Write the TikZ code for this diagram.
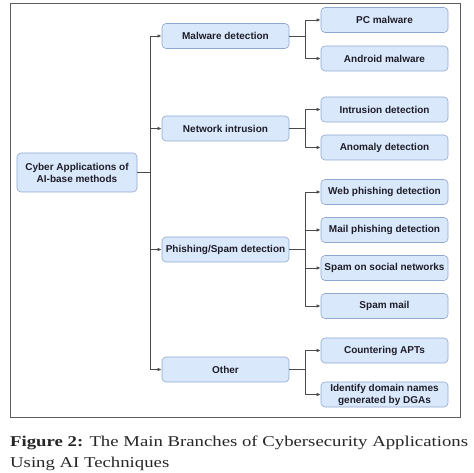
\documentclass[tikz,border=0pt]{standalone}
\usepackage{fontspec}
\setmainfont[FakeStretch=1.25]{Liberation Serif}
\newfontfamily\boxfont{Liberation Sans}
\usetikzlibrary{arrows.meta}
\definecolor{boxfill}{HTML}{DAE8FC}
\definecolor{boxline}{HTML}{8FA8CF}
\definecolor{wire}{HTML}{4A4A4A}
\definecolor{boxtext}{HTML}{1E1E28}

\begin{document}
\begin{tikzpicture}[x=1pt,y=-1pt,
    branch/.style={draw=boxline,fill=boxfill,rounded corners=4pt,line width=0.6pt,
        minimum width=127pt,minimum height=25pt,inner sep=0pt,align=center,
        text=boxtext,font=\boxfont\fontsize{10}{12}\selectfont\bfseries},
    conn/.style={draw=wire,line width=0.8pt,-{Latex[length=4pt,width=3.5pt]}}]
    \useasboundingbox (0,0) rectangle (474,473);
    \draw[wire!90,line width=0.9pt] (10,3) rectangle (460,417);

    \node[branch,minimum width=120pt,minimum height=39pt] (root) at (77,172.5)
        {Cyber Applications of\\AI-base methods};

    \node[branch] (malware) at (225.5,36) {Malware detection};
    \node[branch] (network) at (225.5,128.5) {Network intrusion};
    \node[branch] (phishing) at (225.5,249.5) {Phishing/Spam detection};
    \node[branch] (other) at (225.5,369.5) {Other};

    \node[branch] (pc) at (384.5,20) {PC malware};
    \node[branch] (android) at (384.5,58.5) {Android malware};
    \node[branch] (intrusion) at (384.5,109.5) {Intrusion detection};
    \node[branch] (anomaly) at (384.5,147.5) {Anomaly detection};
    \node[branch] (webphish) at (384.5,192) {Web phishing detection};
    \node[branch] (mailphish) at (384.5,230) {Mail phishing detection};
    \node[branch] (social) at (384.5,268) {Spam on social networks};
    \node[branch] (spammail) at (384.5,306) {Spam mail};
    \node[branch] (apt) at (384.5,350.5) {Countering APTs};
    \node[branch] (dga) at (384.5,394.5) {Identify domain names\\generated by DGAs};

    \foreach \child in {malware,network,phishing,other}
        \draw[conn] (root.east) -- ++(13,0) |- (\child.west);
    \foreach \child in {pc,android}
        \draw[conn] (malware.east) -- ++(16,0) |- (\child.west);
    \foreach \child in {intrusion,anomaly}
        \draw[conn] (network.east) -- ++(16,0) |- (\child.west);
    \foreach \child in {webphish,mailphish,social,spammail}
        \draw[conn] (phishing.east) -- ++(16,0) |- (\child.west);
    \foreach \child in {apt,dga}
        \draw[conn] (other.east) -- ++(16,0) |- (\child.west);

    % caption: base anchor sits on the last line
    \node[anchor=base west,inner sep=0pt,align=left,font=\fontsize{15}{21}\selectfont,text=black!85]
        (caption) at (10,467)
        {\textbf{Figure 2:} The Main Branches of Cybersecurity Applications\\Using AI Techniques};
\end{tikzpicture}
\end{document}
